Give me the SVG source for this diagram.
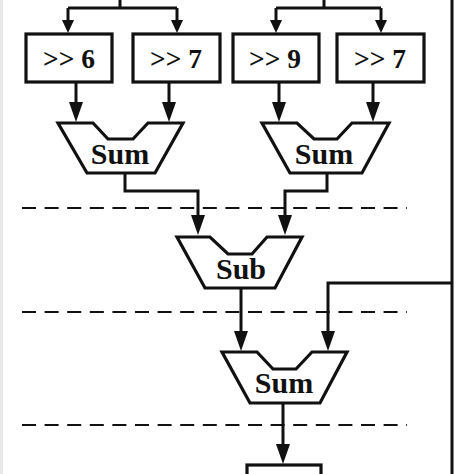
<svg xmlns="http://www.w3.org/2000/svg" width="474" height="474" viewBox="0 0 474 474">
<defs>
<style>
.ln{fill:none;stroke:#111;stroke-width:3;stroke-linejoin:miter}
.dash{fill:none;stroke:#111;stroke-width:2;stroke-dasharray:14 8.6}
.box{fill:#fff;stroke:#111;stroke-width:3.2}
.blk{fill:#fff;stroke:#111;stroke-width:3.2;stroke-linejoin:miter}
.t1{font-family:"Liberation Serif","Times New Roman",serif;font-weight:bold;font-size:27.5px;fill:#111;text-anchor:middle}
.t2{font-family:"Liberation Serif","Times New Roman",serif;font-weight:bold;font-size:30px;fill:#111;text-anchor:middle}
</style>
<marker id="ah" markerUnits="userSpaceOnUse" viewBox="0 -7 20 14" refX="10" refY="0" markerWidth="20" markerHeight="14" orient="auto">
<path d="M0,-7 L20,0 L0,7 z" fill="#111"/>
</marker>
<marker id="ahs" markerUnits="userSpaceOnUse" viewBox="0 -6 13 12" refX="7" refY="0" markerWidth="13" markerHeight="12" orient="auto">
<path d="M0,-6 L13,0 L0,6 z" fill="#111"/>
</marker>
</defs>
<rect x="0" y="0" width="474" height="474" fill="#fff"/>
<rect x="0" y="0" width="3" height="474" fill="#e8e8e8"/>
<g id="stages">
<line class="dash" x1="22" y1="208" x2="407" y2="208"/>
<line class="dash" x1="22" y1="312" x2="407" y2="312"/>
<line class="dash" x1="22" y1="425" x2="407" y2="425"/>
</g>
<g id="connectors">
<path class="ln" d="M120,0 V8 M68,8 H177"/>
<path class="ln" d="M68,8 V27" marker-end="url(#ahs)"/>
<path class="ln" d="M177,8 V27" marker-end="url(#ahs)"/>
<path class="ln" d="M324,0 V8 M276,8 H381"/>
<path class="ln" d="M276,8 V27" marker-end="url(#ahs)"/>
<path class="ln" d="M381,8 V27" marker-end="url(#ahs)"/>
<path class="ln" d="M76,82 V112" marker-end="url(#ah)"/>
<path class="ln" d="M169,82 V112" marker-end="url(#ah)"/>
<path class="ln" d="M279,82 V112" marker-end="url(#ah)"/>
<path class="ln" d="M373,82 V112" marker-end="url(#ah)"/>
<path class="ln" d="M125,173 V191 H198 V225" marker-end="url(#ah)"/>
<path class="ln" d="M327,173 V191 H285 V225" marker-end="url(#ah)"/>
<path class="ln" d="M241,288 V341" marker-end="url(#ah)"/>
<path class="ln" d="M452,0 V474"/>
<path class="ln" d="M452,283 H328 V341" marker-end="url(#ah)"/>
<path class="ln" d="M283,403 V454" marker-end="url(#ah)"/>
</g>
<g id="shift6"><rect class="box" x="26" y="34" width="86" height="48"/><text class="t1" x="69" y="68">&gt;&gt; 6</text></g>
<g id="shift7a"><rect class="box" x="133" y="34" width="87" height="48"/><text class="t1" x="176" y="68">&gt;&gt; 7</text></g>
<g id="shift9"><rect class="box" x="233" y="34" width="86" height="48"/><text class="t1" x="275" y="68">&gt;&gt; 9</text></g>
<g id="shift7b"><rect class="box" x="337" y="34" width="87" height="48"/><text class="t1" x="380" y="68">&gt;&gt; 7</text></g>
<g id="sum1"><polygon class="blk" points="58,123 93,123 108,139 133,139 148,123 183,123 155,173 87,173"/><text class="t2" x="120" y="164">Sum</text></g>
<g id="sum2"><polygon class="blk" points="262,123 297,123 314,139 337,139 352,123 389,123 362,173 290,173"/><text class="t2" x="324" y="164">Sum</text></g>
<g id="sub"><polygon class="blk" points="177,237 210,237 228,254 252,254 267,237 302,237 275,288 205,288"/><text class="t2" x="241" y="279">Sub</text></g>
<g id="sum3"><polygon class="blk" points="222,352 257,352 273,369 296,369 312,352 347,352 320,403 250,403"/><text class="t2" x="284" y="393">Sum</text></g>
<g id="output"><rect class="box" x="247" y="465" width="74" height="24"/></g>
</svg>
